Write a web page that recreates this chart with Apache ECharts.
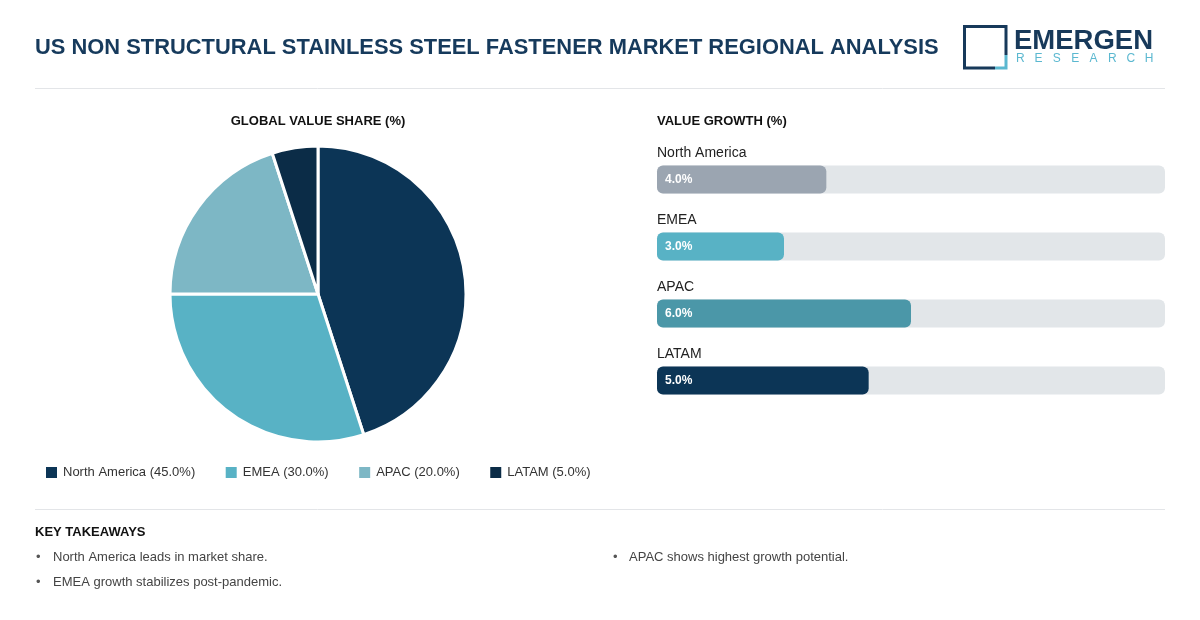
<!DOCTYPE html>
<html><head><meta charset="utf-8">
<script src="https://cdn.jsdelivr.net/npm/echarts@6/dist/echarts.min.js"></script>
<style>html,body{margin:0;padding:0;background:#fff}#c{width:1200px;height:620px}</style>
</head><body><div id="c"></div>
<script>
const title = 'US NON STRUCTURAL STAINLESS STEEL FASTENER MARKET REGIONAL ANALYSIS';
const regions = ['North America', 'EMEA', 'APAC', 'LATAM'];
const shareValues = [45.0, 30.0, 20.0, 5.0];
const shareColors = ['#0c3556', '#58b2c5', '#7db7c5', '#0b2c47'];
const growthValues = [4.0, 3.0, 6.0, 5.0];
const growthColors = ['#9ba5b1', '#58b2c5', '#4b97a8', '#0c3556'];
const growthMax = 12;
const takeawaysLeft = ['North America leads in market share.', 'EMEA growth stabilizes post-pandemic.'];
const takeawaysRight = ['APAC shows highest growth potential.'];

const FONT = '"Liberation Sans", Arial, Helvetica, sans-serif';
const chart = echarts.init(document.getElementById('c'));

function txt(x, y, text, font, fill, align) {
  return {type:'text', x:x, y:y, style:{text:text, font:font, fill:fill, textAlign:align || 'left', textVerticalAlign:'middle'}};
}

const graphics = [
  txt(35, 47.5, title, 'bold 21.9px ' + FONT, '#163a5c'),
  {type:'line', shape:{x1:35, y1:88.5, x2:1165, y2:88.5}, style:{stroke:'#e3e5e8', lineWidth:1}},
  {type:'line', shape:{x1:35, y1:509.5, x2:1165, y2:509.5}, style:{stroke:'#e3e5e8', lineWidth:1}},
  // logo
  {type:'polyline', shape:{points:[[1006,26.5],[964.5,26.5],[964.5,68],[995,68]]}, style:{stroke:'#17395a', lineWidth:3, fill:null}},
  {type:'line', shape:{x1:1006, y1:25, x2:1006, y2:55}, style:{stroke:'#17395a', lineWidth:3}},
  {type:'polyline', shape:{points:[[1006,55],[1006,68],[995,68]]}, style:{stroke:'#5bb8d0', lineWidth:3, fill:null}},
  txt(1014, 41.5, 'EMERGEN', 'bold 27.5px ' + FONT, '#17395a'),
  txt(318, 121.5, 'GLOBAL VALUE SHARE (%)', 'bold 13px ' + FONT, '#111', 'center'),
  txt(657, 121.5, 'VALUE GROWTH (%)', 'bold 13px ' + FONT, '#111'),
  txt(35, 532, 'KEY TAKEAWAYS', 'bold 13px ' + FONT, '#111')
];
'RESEARCH'.split('').forEach((ch, i) => {
  graphics.push(txt(1016 + i * 18.4, 59, ch, '12px ' + FONT, '#5bb8d0'));
});
takeawaysLeft.forEach((t, i) => {
  graphics.push(txt(36, 557 + i * 25, '•', '13px ' + FONT, '#555'));
  graphics.push(txt(53, 557 + i * 25, t, '13px ' + FONT, '#444'));
});
takeawaysRight.forEach((t, i) => {
  graphics.push(txt(613, 557 + i * 25, '•', '13px ' + FONT, '#555'));
  graphics.push(txt(629, 557 + i * 25, t, '13px ' + FONT, '#444'));
});

chart.setOption({
  animation:false,
  textStyle:{fontFamily:FONT},
  graphic:graphics,
  legend:{
    left:44, top:465, padding:0, icon:'rect', itemWidth:13, itemHeight:13, itemGap:28.5,
    data:regions,
    formatter:name => name + ' (' + shareValues[regions.indexOf(name)].toFixed(1) + '%)',
    textStyle:{fontSize:13, color:'#333', fontFamily:FONT}
  },
  grid:{left:657, width:508, top:146, height:268, containLabel:false},
  xAxis:{type:'value', min:0, max:growthMax, show:false},
  yAxis:{
    type:'category', data:regions, inverse:true,
    axisLine:{show:false}, axisTick:{show:false}, axisLabel:{show:false}
  },
  series:[
    {
      type:'pie', radius:148, center:[318,294], startAngle:90, clockwise:true,
      label:{show:false}, labelLine:{show:false},
      itemStyle:{borderColor:'#fff', borderWidth:3},
      data:regions.map((r, i) => ({name:r, value:shareValues[i], itemStyle:{color:shareColors[i]}}))
    },
    {
      type:'bar', barWidth:28,
      showBackground:true, backgroundStyle:{color:'#e2e6e9', borderRadius:6},
      data:growthValues.map((v, i) => ({value:v, itemStyle:{color:growthColors[i], borderRadius:6}})),
      label:{show:true, position:'insideLeft', offset:[3,0], formatter:p => p.value.toFixed(1) + '%', color:'#fff', fontWeight:'bold', fontSize:12, fontFamily:FONT}
    },
    {
      type:'bar', barWidth:28, barGap:'-100%', silent:true, z:1,
      itemStyle:{color:'rgba(0,0,0,0)'},
      data:regions.map(() => growthMax),
      label:{show:true, position:[0,-12.5], align:'left', verticalAlign:'middle', formatter:p => p.name, color:'#222', fontSize:14, fontFamily:FONT}
    }
  ]
});
</script></body></html>
